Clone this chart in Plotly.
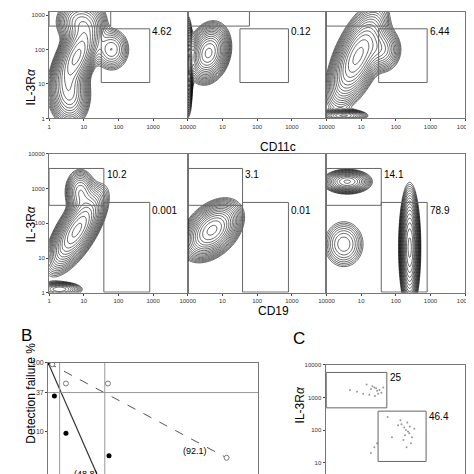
import numpy as np
import plotly.graph_objects as go

# blob parameters: (log10 x, log10 y, sx, sy, weight, rho)
top_blobs = [
    [(0.8, 1.8, 0.30, 0.50, 1.0, 0.6), (0.6, 0.7, 0.25, 0.40, 0.5, 0.0), (0.9, 2.8, 0.30, 0.30, 0.4, 0.0), (1.8, 2.0, 0.25, 0.30, 0.2, 0.0)],
    [(0.6, 1.9, 0.25, 0.35, 1.0, 0.2), (0.03, 1.5, 0.05, 0.60, 0.5, 0.0)],
    [(0.9, 1.8, 0.35, 0.60, 1.0, 0.6), (1.6, 2.0, 0.25, 0.30, 0.3, 0.0), (0.5, 0.08, 0.30, 0.08, 0.4, 0.0)],
]
mid_blobs = [
    [(0.8, 1.8, 0.35, 0.50, 1.0, 0.7), (0.9, 2.9, 0.20, 0.30, 0.3, 0.0), (0.3, 0.1, 0.3, 0.1, 0.3, 0.0)],
    [(0.7, 1.8, 0.35, 0.35, 1.0, 0.4)],
    [(2.4, 1.3, 0.12, 0.70, 1.0, 0.0), (0.6, 3.2, 0.30, 0.15, 0.5, 0.0), (0.5, 1.4, 0.30, 0.35, 0.15, 0.0)],
]
top_pct = ["4.62", "0.12", "6.44"]
mid_pct_up = ["10.2", "3.1", "14.1"]
mid_pct_right = ["0.001", "0.01", "78.9"]

# panel B
b_filled_x = [0, 3, 8.5, 29]
b_filled_y = [100, 33, 9.5, 4.5]
b_open_x = [2, 8.5, 28.5, 85]
b_open_y = [95, 50, 50, 4.2]
b_solid_x = [0, 24.5]
b_solid_y = [100, 2.0]
b_dash_x = [0, 85]
b_dash_y = [100, 4.2]

# panel C dots
c_x = [8, 12, 20, 25, 30, 18, 22, 35, 40, 15, 28, 5, 45, 32, 26,
       150, 180, 200, 250, 300, 140, 220, 260, 350, 190, 170, 230, 280, 120, 210, 60, 30, 20, 80, 25]
c_y = [1500, 1300, 1800, 2000, 1600, 1200, 2200, 1700, 1400, 2500, 1900, 1700, 2000, 1300, 1100,
       150, 120, 100, 80, 60, 200, 170, 130, 110, 70, 50, 90, 40, 140, 30, 250, 40, 20, 60, 30]

W = 474
fig = go.Figure()
layout = {}


def px(x):
    return x / W


def py(y):
    return 1 - y / W


g = np.linspace(0, 4, 100)
gx, gy = np.meshgrid(g, g)


def density(blobs):
    z = np.zeros_like(gx)
    for cx, cy, sx, sy, w, r in blobs:
        dx = (gx - cx) / sx
        dy = (gy - cy) / sy
        z += w * np.exp(-(dx * dx - 2 * r * dx * dy + dy * dy) / (2 * (1 - r * r)))
    return np.log(z / z.max() + 1e-9)


panels_x = [(40, 182), (182, 324), (324, 466)]
shapes = []
ann = []
n = 0
font = dict(family="Liberation Sans, Arial", color="black")
tick_font = dict(family="Liberation Sans, Arial", size=6, color="#333")
dec = [1, 10, 100, 1000, 10000]

for row, (blobs_list, ytop, ybot, yr) in enumerate([(top_blobs, 0, 108, [0, 3.09]), (mid_blobs, 144, 285, [0, 4])]):
    for i, blobs in enumerate(blobs_list):
        n += 1
        xa = "x" if n == 1 else f"x{n}"
        ya = "y" if n == 1 else f"y{n}"
        x0, x1 = panels_x[i]
        tv = dec if i == 0 else dec[1:]
        layout["xaxis" if n == 1 else f"xaxis{n}"] = dict(
            type="log", range=[0, 4], domain=[px(x0), px(x1)], anchor=ya,
            tickvals=tv, ticktext=[str(v) for v in tv], ticks="outside", ticklen=2,
            tickfont=tick_font, showgrid=False, zeroline=False, showline=True,
            linecolor="#777", mirror=True)
        layout["yaxis" if n == 1 else f"yaxis{n}"] = dict(
            type="log", range=yr, domain=[py(ybot), py(ytop)], anchor=xa,
            tickvals=dec, ticktext=[str(v) for v in dec], ticks="outside" if i == 0 else "", ticklen=2,
            showticklabels=(i == 0), tickfont=tick_font, showgrid=False, zeroline=False,
            showline=True, linecolor="#777", mirror=True)
        fig.add_trace(go.Contour(
            x=10 ** g, y=10 ** g, z=density(blobs), xaxis=xa, yaxis=ya,
            contours=dict(start=-3.6, end=-0.05, size=0.22, coloring="none"),
            line=dict(color="black", width=0.6), showscale=False, hoverinfo="skip"))
        ref = dict(xref=xa, yref=ya, type="rect", line=dict(color="#666", width=1))
        if row == 0:
            shapes.append(dict(ref, x0=1, x1=60, y0=480, y1=5000))
            shapes.append(dict(ref, x0=32, x1=800, y0=11, y1=400))
            ann.append(dict(xref=xa, yref=ya, x=np.log10(820), y=np.log10(330), text=top_pct[i],
                            showarrow=False, xanchor="left", font=dict(font, size=10)))
        else:
            shapes.append(dict(ref, x0=1, x1=38, y0=330, y1=3800))
            shapes.append(dict(ref, x0=38, x1=800, y0=1.05, y1=400))
            ann.append(dict(xref=xa, yref=ya, x=np.log10(40), y=np.log10(2500), text=mid_pct_up[i],
                            showarrow=False, xanchor="left", font=dict(font, size=10)))
            ann.append(dict(xref=xa, yref=ya, x=np.log10(820), y=np.log10(230), text=mid_pct_right[i],
                            showarrow=False, xanchor="left", font=dict(font, size=10)))

# panel B
layout["xaxis7"] = dict(range=[0, 100], domain=[px(39), px(254)], anchor="y7", showticklabels=False,
                        showgrid=False, zeroline=False, showline=True, linecolor="#777", mirror=True)
layout["yaxis7"] = dict(type="log", range=[np.log10(2.07), 2.0], domain=[0, py(356)], anchor="x7",
                        tickvals=[10, 37, 100], ticktext=["10", "37", "100"], ticks="outside", ticklen=2,
                        tickfont=dict(tick_font, size=7), showgrid=False, zeroline=False,
                        showline=True, linecolor="#777", mirror=True)
for v in [5.5, 27]:
    shapes.append(dict(xref="x7", yref="y7", type="line", x0=v, x1=v, y0=2.07, y1=100,
                       line=dict(color="#999", width=1)))
shapes.append(dict(xref="x7", yref="y7", type="line", x0=0, x1=100, y0=37, y1=37,
                   line=dict(color="#999", width=1)))
fig.add_trace(go.Scatter(x=b_solid_x, y=b_solid_y, xaxis="x7", yaxis="y7", mode="lines",
                         line=dict(color="#333", width=1.2)))
fig.add_trace(go.Scatter(x=b_dash_x, y=b_dash_y, xaxis="x7", yaxis="y7", mode="lines",
                         line=dict(color="#555", width=1, dash="dash")))
fig.add_trace(go.Scatter(x=b_filled_x, y=b_filled_y, xaxis="x7", yaxis="y7", mode="markers",
                         marker=dict(color="black", size=5)))
fig.add_trace(go.Scatter(x=b_open_x, y=b_open_y, xaxis="x7", yaxis="y7", mode="markers",
                         marker=dict(color="white", size=5, line=dict(color="#777", width=1))))
ann.append(dict(xref="x7", yref="y7", x=70, y=np.log10(5.2), text="(92.1)", showarrow=False,
                font=dict(font, size=9)))
ann.append(dict(xref="x7", yref="y7", x=18, y=np.log10(2.45), text="(48.8)", showarrow=False,
                font=dict(font, size=9)))

# panel C
layout["xaxis8"] = dict(type="log", range=[0, 4], domain=[px(323), px(466)], anchor="y8",
                        showticklabels=False, showgrid=False, zeroline=False, showline=True,
                        linecolor="#777", mirror=True)
layout["yaxis8"] = dict(type="log", range=[np.log10(3.2), 4], domain=[0, py(358)], anchor="x8",
                        tickvals=dec[1:], ticktext=[str(v) for v in dec[1:]], ticks="outside", ticklen=2,
                        tickfont=tick_font, showgrid=False, zeroline=False, showline=True,
                        linecolor="#777", mirror=True)
fig.add_trace(go.Scatter(x=c_x, y=c_y, xaxis="x8", yaxis="y8", mode="markers",
                         marker=dict(color="#999", size=2)))
shapes.append(dict(xref="x8", yref="y8", type="rect", x0=1.05, x1=57, y0=480, y1=5800,
                   line=dict(color="#666", width=1)))
shapes.append(dict(xref="x8", yref="y8", type="rect", x0=32, x1=760, y0=11, y1=380,
                   line=dict(color="#666", width=1)))
ann.append(dict(xref="x8", yref="y8", x=np.log10(60), y=np.log10(4200), text="25", showarrow=False,
                xanchor="left", font=dict(font, size=10)))
ann.append(dict(xref="x8", yref="y8", x=np.log10(800), y=np.log10(260), text="46.4", showarrow=False,
                xanchor="left", font=dict(font, size=10)))

# free text
for x, y, t, s, ang in [(12, 55, "IL-3R<i>α</i>", 12, -90), (12, 215, "IL-3R<i>α</i>", 12, -90),
                        (297, 420, "IL-3R<i>α</i>", 12, -90), (12, 440, "Detection failure %", 12, -90),
                        (274, 128, "CD11c", 12, 0), (270, 303, "CD19", 12, 0),
                        (9, 340, "B", 17, 0), (296, 343, "C", 17, 0)]:
    ann.append(dict(xref="paper", yref="paper", x=px(x), y=py(y), text=t, textangle=ang,
                    showarrow=False, font=dict(font, size=s)))

fig.update_layout(width=W, height=W, margin=dict(l=0, r=0, t=0, b=0), showlegend=False,
                  plot_bgcolor="white", paper_bgcolor="white", shapes=shapes, annotations=ann, **layout)
fig.write_html("out.html")
